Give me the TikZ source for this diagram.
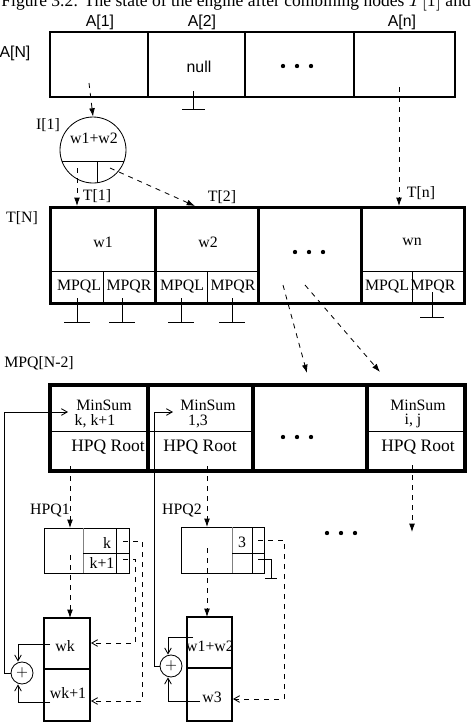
\documentclass[tikz,border=0pt]{standalone}
\usepackage{fontspec}
\setmainfont{Liberation Serif}
\newfontfamily\sansfont{Liberation Sans}
\usetikzlibrary{arrows.meta}
\tikzset{
  ptr/.style={dashed,-{Latex[length=5pt,width=3.5pt]}},
  link/.style={-{Straight Barb[length=3.5pt,width=4pt]}},
  dlink/.style={dashed,-{Straight Barb[length=3.5pt,width=4pt]}},
  arow/.style={line width=1.2pt},
  trow/.style={line width=1.8pt},
  mrow/.style={line width=2.2pt},
  txt/.style={inner sep=0pt},
  stxt/.style={inner sep=0pt,font=\sansfont\fontsize{9.5}{11}\selectfont},
  plus/.style={draw,circle,inner sep=0pt,minimum size=13.2pt},
}
\newcommand\threedots[2]{\foreach \d in {-14,0,14} \fill (#1+\d,#2) circle[radius=1.3pt];}
\begin{document}
\begin{tikzpicture}[x=0.6pt,y=-0.6pt,line width=0.5pt,font=\fontsize{9.5}{11}\selectfont]
\useasboundingbox (0,0) rectangle (474,722);
\clip (0,0) rectangle (474,722);
\node[anchor=base west,inner sep=0pt,font=\fontsize{10.5}{12}\selectfont] (title) at (1,6)
  {Figure 3.2: The state of the engine after combining nodes $T[1]$ and $T[2]$};

% array A
\draw[arow] (50,32) rectangle (455,97);
\foreach \x in {148,245,354} \draw[arow] (\x,32) -- (\x,97);
\node[stxt] (a1) at (100,22) {A[1]};
\node[stxt] (a2) at (202,22) {A[2]};
\node[stxt] (an) at (402,22) {A[n]};
\node[stxt] (aN) at (15,53) {A[N]};
\node[stxt] (null) at (199,67) {null};
\threedots{297}{66}
\draw (193,91) -- (193,109) (182,109) -- (205,109);

% node I[1]
\node[draw,circle,inner sep=0pt,minimum size=39.6pt] (inode) at (93,150) {};
\draw (62,161) -- (124,161) (97,161) -- (97,182.8);
\node[txt] (iw) at (94,138) {w1+w2};
\node[txt] (ilbl) at (48,125) {I[1]};
\coordinate (a1p) at (89,83);
\draw[ptr] (a1p) -- (inode.north);

% array T
\coordinate (t1top) at (77,206);
\coordinate (t2top) at (195,206);
\coordinate (tntop) at (399,206);
\coordinate (ilp) at (77,168);
\coordinate (irp) at (110,168);
\coordinate (anp) at (399,87);
\draw[ptr] (ilp) -- (t1top);
\draw[ptr] (irp) -- (t2top);
\draw[ptr] (anp) -- (tntop);
\node[txt] (t1) at (97,196) {T[1]};
\node[txt] (t2) at (222,197) {T[2]};
\node[txt] (tn) at (421,193) {T[n]};
\node[txt] (tN) at (22,218) {T[N]};
\draw[trow] (50,207) rectangle (464,303);
\foreach \x in {155,258,361} \draw[trow] (\x,207) -- (\x,303);
\draw (50,271) -- (258,271) (361,271) -- (464,271);
\foreach \x in {103,207,412} \draw (\x,271) -- (\x,303);
\node[txt] (w1) at (103,242) {w1};
\node[txt] (w2) at (208,242) {w2};
\node[txt] (wn) at (412,242) {wn};
\threedots{309}{252}
\node[txt] (ql1) at (79,287) {MPQL};
\node[txt] (qr1) at (129,287) {MPQR};
\node[txt] (ql2) at (182,287) {MPQL};
\node[txt] (qr2) at (233,287) {MPQR};
\node[txt] (qln) at (387,287) {MPQL};
\node[txt] (qrn) at (433,287) {MPQR};
\foreach \x in {77,122,181,232}
  \draw (\x,298) -- (\x,322) (\x-13,322) -- (\x+13,322);
\draw (432,292) -- (432,317) (420,317) -- (444,317);

% array MPQ
\coordinate (d1) at (283,285);
\coordinate (d2) at (305,285);
\coordinate (m3top) at (307,373);
\coordinate (m4top) at (380,372);
\draw[ptr] (d1) -- (m3top);
\draw[ptr] (d2) -- (m4top);
\node[txt] (mN) at (39,363) {MPQ[N-2]};
\draw[mrow] (50,385) rectangle (465,471);
\foreach \x in {148,253,367} \draw[mrow] (\x,385) -- (\x,471);
\draw (50,431) -- (253,431) (367,431) -- (465,431);
\node[txt] (ms1) at (104,405) {MinSum};
\node[txt] (mk1) at (95,421) {k, k+1};
\node[txt] (ms2) at (208,405) {MinSum};
\node[txt] (mk2) at (198,421) {1,3};
\node[txt] (msn) at (418,405) {MinSum};
\node[txt] (mkn) at (413,421) {i, j};
\node[txt,font=\fontsize{10.5}{12}\selectfont] (hr1) at (108,447) {HPQ Root};
\node[txt,font=\fontsize{10.5}{12}\selectfont] (hr2) at (200,447) {HPQ Root};
\node[txt,font=\fontsize{10.5}{12}\selectfont] (hrn) at (418,447) {HPQ Root};
\threedots{297}{437}

% heap HPQ1
\coordinate (r1p) at (70,466);
\coordinate (h1top) at (70,528);
\draw[ptr] (r1p) -- (h1top);
\node[txt] (h1lbl) at (50,511) {HPQ1};
\draw (44,528) rectangle (129,573);
\draw[gray] (83,528) -- (83,573);
\draw (116,528) -- (116,573) (83,553) -- (129,553);
\node[txt] (hk) at (107,543) {k};
\node[txt] (hk1) at (102,563) {k+1};

% heap HPQ2
\coordinate (r2p) at (207,466);
\coordinate (h2top) at (207,527);
\draw[ptr] (r2p) -- (h2top);
\node[txt] (h2lbl) at (182,511) {HPQ2};
\draw (181,527) rectangle (264,573);
\draw[gray] (232,527) -- (232,573);
\draw (252,527) -- (252,573) (232,553) -- (264,553);
\node[txt] (h3) at (242,542) {3};
\draw (258,559) -- (271,559) -- (271,578) (265,578) -- (277,578);

\coordinate (rnp) at (412,465);
\coordinate (rnend) at (412,532);
\draw[ptr] (rnp) -- (rnend);
\threedots{341}{533}

% weights of HPQ1
\draw[line width=0.9pt] (44,618) rectangle (90,721);
\draw[line width=1pt] (44,669) -- (90,669);
\node[txt] (wk) at (65,646) {wk};
\node[txt] (wk1) at (68,693) {wk+1};
\coordinate (h1in) at (70,555);
\coordinate (wktop) at (70,618);
\draw[ptr] (h1in) -- (wktop);
\coordinate (kp) at (123,541);
\coordinate (k1p) at (123,559);
\coordinate (wkin) at (91,643);
\coordinate (wk1in) at (91,701);
\draw[dlink] (kp) -- (142,541) -- (142,701) -- (wk1in);
\draw[dlink] (k1p) -- (135,559) -- (135,643) -- (wkin);
\node[plus] (p1) at (22,673) {$+$};
\coordinate (wkl) at (50,644);
\coordinate (wk1l) at (50,702);
\draw[link] (wkl) -- (18,644) -- (p1.north -| 18,0);
\draw[link] (wk1l) -- (18,702) -- (p1.south -| 18,0);
\coordinate (ms1in) at (68,412);
\draw[link] (p1.west) -- (4,673) -- (4,412) -- (ms1in);

% weights of HPQ2
\draw[line width=0.9pt] (187,617) rectangle (232,721);
\draw[line width=1pt] (187,668) -- (232,668);
\node[txt] (w12) at (210,646) {w1+w2};
\node[txt] (w3) at (212,697) {w3};
\coordinate (h2in) at (207,548);
\coordinate (w12top) at (207,617);
\draw[ptr] (h2in) -- (w12top);
\coordinate (h3p) at (258,540);
\coordinate (w3in) at (233,699);
\draw[dlink] (h3p) -- (284,540) -- (284,699) -- (w3in);
\node[plus] (p2) at (171,666) {$+$};
\coordinate (w12l) at (193,637);
\coordinate (w3l) at (200,701);
\draw[link] (w12l) -- (168,637) -- (p2.north -| 168,0);
\draw[link] (w3l) -- (168,701) -- (p2.south -| 168,0);
\coordinate (ms2in) at (173,412);
\draw[link] (p2.west) -- (154,666) -- (154,412) -- (ms2in);
\end{tikzpicture}
\end{document}
